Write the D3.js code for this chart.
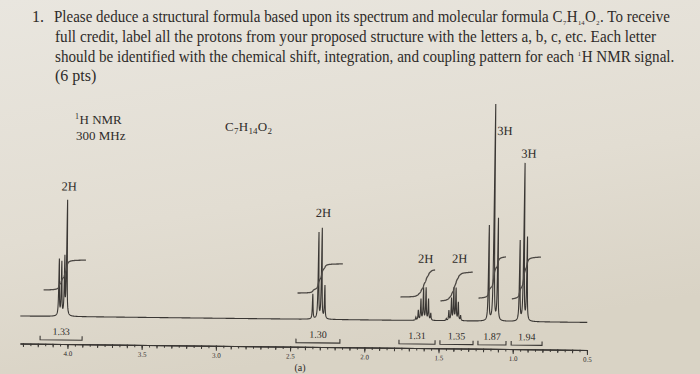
<!DOCTYPE html>
<html>
<head>
<meta charset="utf-8">
<script src="https://cdn.jsdelivr.net/npm/d3@7"></script>
<style>
  body { margin: 0; background: #e3dfd6; }
  svg { display: block; }
</style>
</head>
<body>
<script>
// Peak lines: position (ppm) and height (% of the tallest line).
var quartetPpm = [4.061, 4.044, 4.024, 4.010]
var quartetHeight = [26, 24.5, 26.5, 53]
var tripletAPpm = [2.351, 2.314, 2.292, 2.270]
var tripletAHeight = [11.6, 39.8, 41.7, 15.3]
var multAPpm = [1.655, 1.639, 1.622, 1.605, 1.588, 1.571, 1.555]
var multAHeight = [1.4, 4.6, 9.7, 14.8, 14.8, 9.7, 3.2]
var multBPpm = [1.450, 1.433, 1.416, 1.401, 1.386, 1.370, 1.354]
var multBHeight = [0.9, 4.6, 10.2, 14.8, 14.8, 8.3, 2.3]
var tripletBPpm = [1.167, 1.133, 1.106]
var tripletBHeight = [44, 100, 47]
var tripletCPpm = [0.958, 0.931, 0.909]
var tripletCHeight = [37, 72.7, 38.4]

// Integration curves: region (ppm) and level before / after the step.
var integralFrom = [4.165, 2.454, 1.760, 1.491, 1.235, 1.011]
var integralTo = [3.882, 2.151, 1.529, 1.275, 1.053, 0.817]
var integralLow = [12.2, 12.1, 10.8, 9.2, 10.7, 10.5]
var integralHigh = [26.2, 25.8, 23.5, 22.7, 29.9, 30.0]

// Integral values printed under the spectrum.
var bracketFrom = [4.185, 2.461, 1.767, 1.491, 1.235, 1.011]
var bracketTo = [3.902, 2.165, 1.524, 1.268, 1.046, 0.803]
var bracketText = ["1.33", "1.30", "1.31", "1.35", "1.87", "1.94"]

// Proton count labels over the peaks.
var hLabelText = ["2H", "2H", "2H", "2H", "3H", "3H"]
var hLabelPpm = [4.0, 2.285, 1.594, 1.365, 1.069, 0.906]
var hLabelLevel = [58.3, 47.4, 26.7, 26.9, 86.3, 75.9]

// Axis ticks.
var tickLabels = ["4.0", "3.5", "3.0", "2.5", "2.0", "1.5", "1.0", "0.5"]

var questionLines = [
    "Please deduce a structural formula based upon its spectrum and molecular formula C",
    "full credit, label all the protons from your proposed structure with the letters a, b, c, etc. Each letter",
    "should be identified with the chemical shift, integration, and coupling pattern for each",
    "(6 pts)"
]

function main() {
    var width = 700
    var height = 374
    var ink = "#2e2b29"

    var svg = d3.select("body").append("svg")
        .attr("width", width)
        .attr("height", height)
        .style("font-family", "'Liberation Serif', 'Times New Roman', serif")

    // Paper background.
    var defs = svg.append("defs")
    var grad = defs.append("linearGradient").attr("id", "paper")
        .attr("x1", 0).attr("y1", 0).attr("x2", 0.3).attr("y2", 1)
    grad.append("stop").attr("offset", "0%").attr("stop-color", "#e9e6df")
    grad.append("stop").attr("offset", "60%").attr("stop-color", "#e2ddd2")
    grad.append("stop").attr("offset", "100%").attr("stop-color", "#d9d3c5")
    svg.append("rect").attr("width", width).attr("height", height).attr("fill", "url(#paper)")

    // Squeeze a text element horizontally to a target width.
    function fit(sel, x, w) {
        var natural = sel.node().getBBox().width
        sel.attr("transform", "translate(" + x + ",0) scale(" + (w / natural) + ",1)")
    }

    // Question text.
    var q = svg.append("g").attr("fill", ink).style("font-size", "16px")
    q.append("text").attr("x", 32).attr("y", 22).text("1.")
    var t1 = q.append("text").attr("y", 22)
    t1.append("tspan").text(questionLines[0])
    t1.append("tspan").attr("dx", 0.5).attr("dy", 3).style("font-size", "7px").text("7")
    t1.append("tspan").attr("dx", 0.5).attr("dy", -3).text("H")
    t1.append("tspan").attr("dx", 0.5).attr("dy", 3).style("font-size", "7px").text("14")
    t1.append("tspan").attr("dx", 0.5).attr("dy", -3).text("O")
    t1.append("tspan").attr("dx", 0.5).attr("dy", 3).style("font-size", "7px").text("2")
    t1.append("tspan").attr("dx", 0.5).attr("dy", -3).text(". To receive")
    fit(t1, 54, 616)
    var t2 = q.append("text").attr("y", 42).text(questionLines[1])
    fit(t2, 55, 602)
    var t3 = q.append("text").attr("y", 62)
    t3.append("tspan").text(questionLines[2])
    t3.append("tspan").attr("dx", 4).attr("dy", -6).style("font-size", "7px").text("1")
    t3.append("tspan").attr("dx", 0.5).attr("dy", 6).text("H NMR signal.")
    fit(t3, 55, 620)
    q.append("text").attr("x", 55).attr("y", 81).text(questionLines[3])

    // Spectrum titles.
    var titles = svg.append("g").attr("fill", ink).style("font-size", "13px")
    var n1 = titles.append("text").attr("x", 75).attr("y", 124)
    n1.append("tspan").attr("dy", -5).style("font-size", "8px").text("1")
    n1.append("tspan").attr("dx", 0.5).attr("dy", 5).text("H NMR")
    titles.append("text").attr("x", 76).attr("y", 140).text("300 MHz")
    var f = titles.append("text").attr("x", 225).attr("y", 131)
    f.append("tspan").text("C")
    f.append("tspan").attr("dx", 0.3).attr("dy", 3).style("font-size", "9px").text("7")
    f.append("tspan").attr("dx", 0.3).attr("dy", -3).text("H")
    f.append("tspan").attr("dx", 0.3).attr("dy", 3).style("font-size", "9px").text("14")
    f.append("tspan").attr("dx", 0.3).attr("dy", -3).text("O")
    f.append("tspan").attr("dx", 0.3).attr("dy", 3).style("font-size", "9px").text("2")
    svg.append("text").attr("x", 300).attr("y", 371).attr("text-anchor", "middle")
        .attr("fill", ink).style("font-size", "10px").text("(a)")

    // Chart group, slightly tilted like the photographed page.
    var chart = svg.append("g").attr("transform", "rotate(0.65,20,343)")

    var xScale = d3.scaleLinear().domain([4.32, 0.5]).range([20, 587])
    var yScale = d3.scaleLinear().domain([0, 100]).range([316, 100])

    // Collect all peak lines.
    var groups = [
        [quartetPpm, quartetHeight], [tripletAPpm, tripletAHeight],
        [multAPpm, multAHeight], [multBPpm, multBHeight],
        [tripletBPpm, tripletBHeight], [tripletCPpm, tripletCHeight]
    ]
    var lines = []
    groups.forEach(function (g) {
        g[0].forEach(function (p, i) { lines.push({ ppm: p, h: g[1][i] }) })
    })

    // Lorentzian line shape.
    function lorentz(p, w) {
        var s = 0
        lines.forEach(function (l) {
            var d = (p - l.ppm) / w
            s += l.h / (1 + d * d)
        })
        return s
    }

    var grid = d3.range(0.5, 4.3205, 0.001)
        .concat(lines.map(function (l) { return l.ppm }))
        .sort(d3.descending)

    var spectrum = grid.map(function (p) { return [p, lorentz(p, 0.0025)] })

    var line = d3.line()
        .x(function (d) { return xScale(d[0]) })
        .y(function (d) { return yScale(d[1]) })

    chart.append("path")
        .datum(spectrum)
        .attr("fill", "none")
        .attr("stroke", "#3a3734")
        .attr("stroke-width", 1.1)
        .attr("d", line)

    // Integration curves.
    integralFrom.forEach(function (from, i) {
        var pts = grid.filter(function (p) { return p <= from && p >= integralTo[i] })
        var cum = 0
        var acc = pts.map(function (p) { cum += lorentz(p, 0.006); return cum })
        var curve = pts.map(function (p, j) {
            return [p, integralLow[i] + (integralHigh[i] - integralLow[i]) * acc[j] / cum]
        })
        chart.append("path")
            .datum(curve)
            .attr("fill", "none")
            .attr("stroke", "#4d4945")
            .attr("stroke-width", 1.3)
            .attr("d", line)
    })

    // Proton count labels.
    chart.selectAll(".hlabel")
        .data(hLabelText)
        .enter().append("text")
        .attr("class", "hlabel")
        .attr("x", function (d, i) { return xScale(hLabelPpm[i]) })
        .attr("y", function (d, i) { return yScale(hLabelLevel[i]) })
        .attr("text-anchor", "middle")
        .attr("fill", ink)
        .style("font-size", "12.5px")
        .text(function (d) { return d })

    // Integral brackets.
    var bracketY = 339.5
    var br = chart.selectAll(".bracket")
        .data(bracketText)
        .enter().append("g")
        .attr("class", "bracket")
    br.append("path")
        .attr("fill", "none")
        .attr("stroke", "#3a3734")
        .attr("stroke-width", 1.1)
        .attr("d", function (d, i) {
            var a = xScale(bracketFrom[i]), b = xScale(bracketTo[i])
            return "M" + a + "," + (bracketY - 4) + "V" + bracketY + "H" + b + "V" + (bracketY - 4)
        })
    br.append("text")
        .attr("x", function (d, i) { return (xScale(bracketFrom[i]) + xScale(bracketTo[i])) / 2 })
        .attr("y", bracketY - 5)
        .attr("text-anchor", "middle")
        .attr("fill", ink)
        .style("font-size", "10px")
        .text(function (d) { return d })

    // Ruler axis: minor, medium and major ticks.
    var axisY = 343.5
    var minorAxis = d3.axisBottom(xScale)
        .tickValues(d3.range(10, 87).map(function (k) { return k * 0.05 }))
        .tickSize(2.5).tickSizeOuter(0).tickFormat("")
    var midAxis = d3.axisBottom(xScale)
        .tickValues(d3.range(5, 44).map(function (k) { return k * 0.1 }))
        .tickSize(3.5).tickSizeOuter(0).tickFormat("")
    var majorAxis = d3.axisBottom(xScale)
        .tickValues(tickLabels.map(Number))
        .tickSize(5).tickSizeOuter(0).tickPadding(2)
        .tickFormat(function (d, i) { return tickLabels[i] })

    ;[minorAxis, midAxis, majorAxis].forEach(function (ax) {
        var g = chart.append("g")
            .attr("transform", "translate(0," + axisY + ")")
            .call(ax)
        g.selectAll("path, line").attr("stroke", "#3a3734").attr("stroke-width", 1)
        g.selectAll("text").attr("fill", ink)
            .style("font-family", "'Liberation Serif', serif").style("font-size", "7px")
    })
}
main()
</script>
</body>
</html>
